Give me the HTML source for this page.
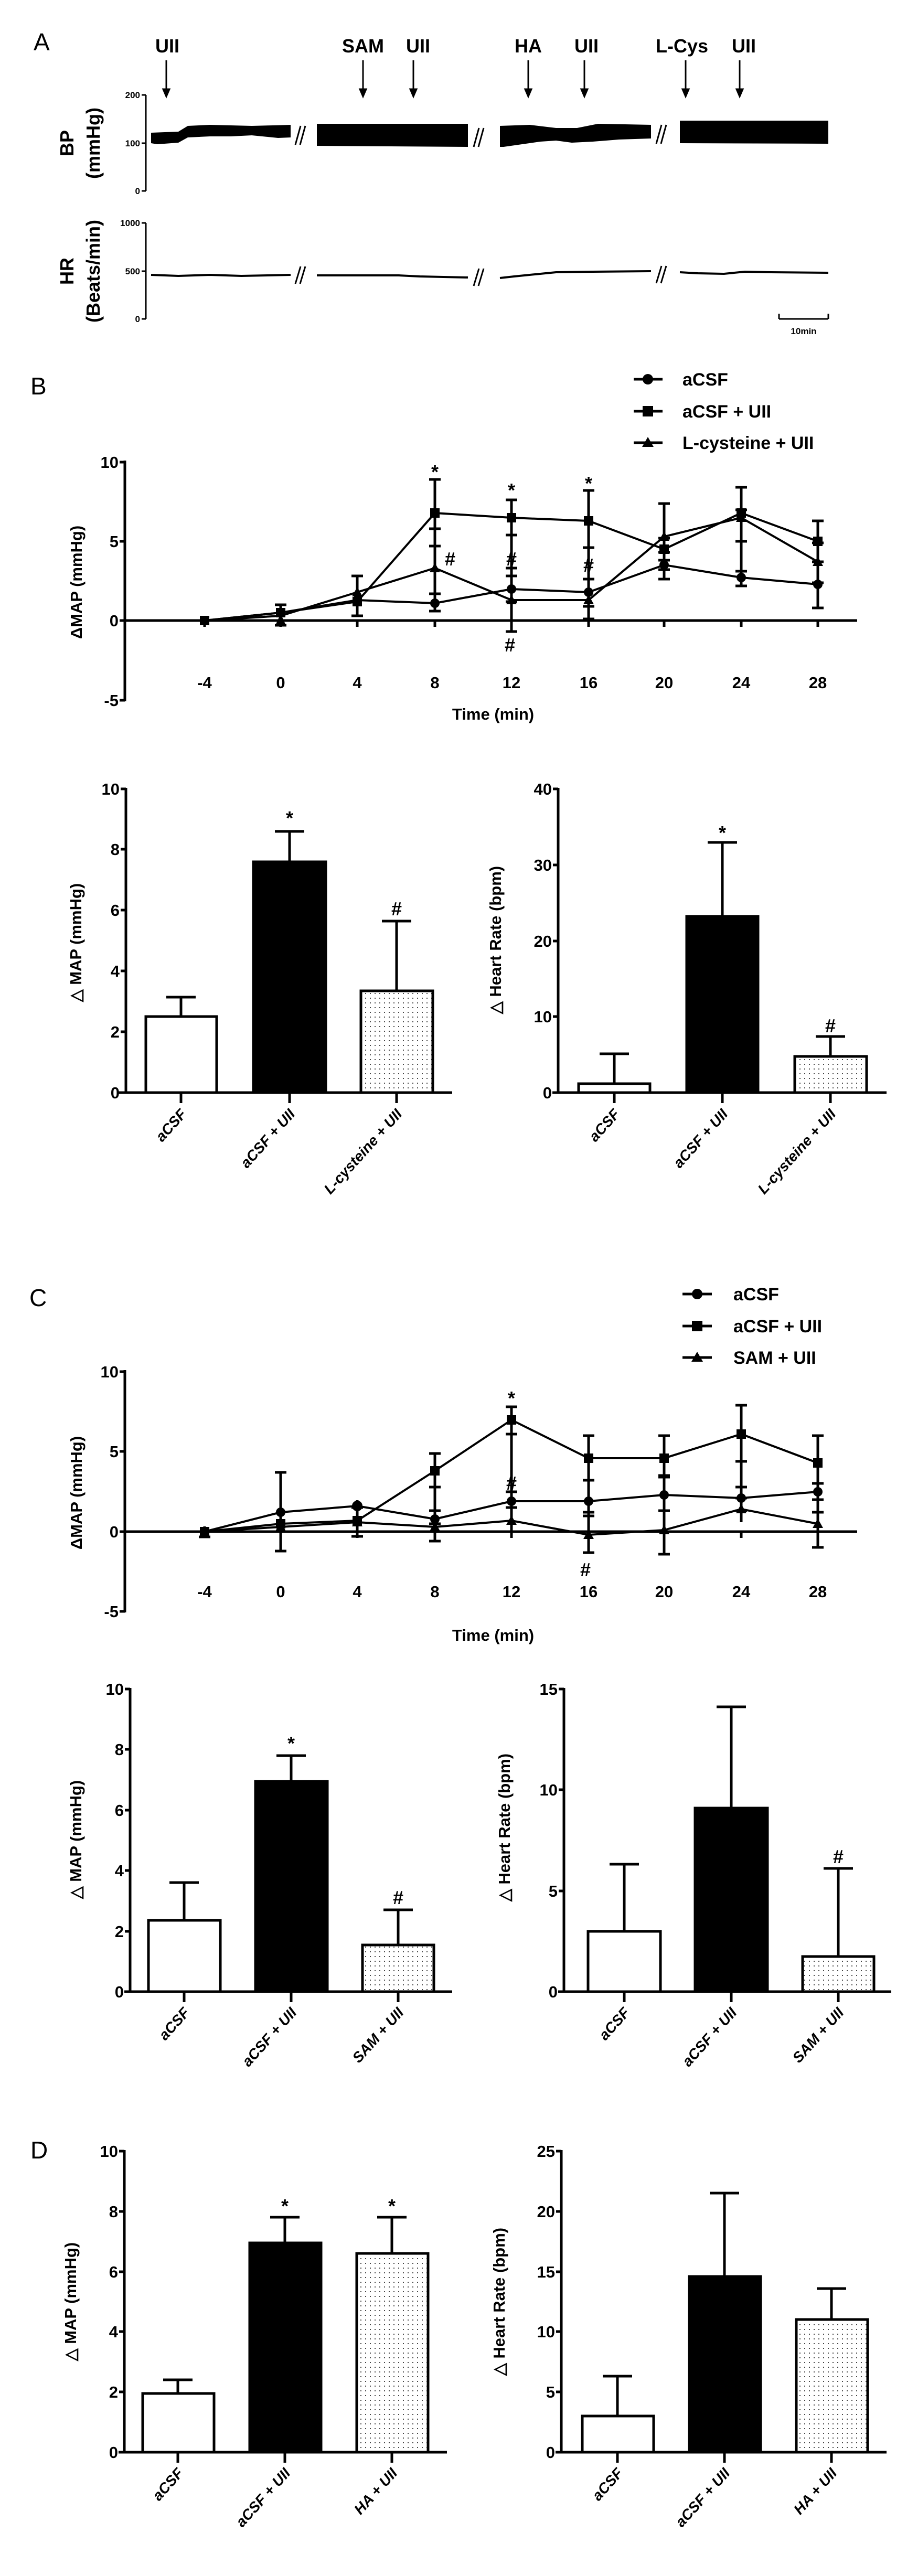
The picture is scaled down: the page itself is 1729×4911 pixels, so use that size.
<!DOCTYPE html>
<html><head><meta charset="utf-8"><style>
html,body{margin:0;padding:0;background:#fff}
svg{display:block}
text{font-family:"Liberation Sans",sans-serif;fill:#000}
.tk{font-size:31px;font-weight:bold}
.ax{font-size:31px;font-weight:bold}
.lg{font-size:34px;font-weight:bold}
.pl{font-size:46px}
.rl{font-size:28px;font-style:italic;font-weight:bold}
.sm{font-size:17px;font-weight:bold}
.an{font-size:36px;font-weight:bold}
</style></head><body>
<svg width="1729" height="4911" viewBox="0 0 1729 4911" xmlns="http://www.w3.org/2000/svg">
<defs>
<pattern id="dots" width="9" height="9" patternUnits="userSpaceOnUse"><rect width="9" height="9" fill="#fff"/><rect x="3" y="3" width="2" height="2" fill="#444"/></pattern>
</defs>
<rect width="1729" height="4911" fill="#fff"/>

<!-- ===== Panel A ===== -->
<text class="pl" x="64" y="96">A</text>
<g class="an" text-anchor="middle" style="font-size:36px">
<text x="319" y="100">UII</text>
<text x="692" y="100">SAM</text>
<text x="797" y="100">UII</text>
<text x="1007" y="100">HA</text>
<text x="1118" y="100">UII</text>
<text x="1300" y="100">L-Cys</text>
<text x="1418" y="100">UII</text>
</g>
<g stroke="#000" stroke-width="3" fill="#000">
<line x1="317" y1="115" x2="317" y2="175"/><polygon points="311,170 323,170 317,184"/>
<line x1="692" y1="115" x2="692" y2="175"/><polygon points="686,170 698,170 692,184"/>
<line x1="788" y1="115" x2="788" y2="175"/><polygon points="782,170 794,170 788,184"/>
<line x1="1007" y1="115" x2="1007" y2="175"/><polygon points="1001,170 1013,170 1007,184"/>
<line x1="1114" y1="115" x2="1114" y2="175"/><polygon points="1108,170 1120,170 1114,184"/>
<line x1="1307" y1="115" x2="1307" y2="175"/><polygon points="1301,170 1313,170 1307,184"/>
<line x1="1410" y1="115" x2="1410" y2="175"/><polygon points="1404,170 1416,170 1410,184"/>
</g>
<g stroke="#000" stroke-width="3">
<line x1="278" y1="181" x2="278" y2="364"/>
<line x1="270" y1="181" x2="278" y2="181"/><line x1="270" y1="273" x2="278" y2="273"/><line x1="270" y1="364" x2="278" y2="364"/>
<line x1="278" y1="425" x2="278" y2="608"/>
<line x1="270" y1="425" x2="278" y2="425"/><line x1="270" y1="517" x2="278" y2="517"/><line x1="270" y1="608" x2="278" y2="608"/>
<line x1="1485" y1="608" x2="1579" y2="608"/><line x1="1485" y1="598" x2="1485" y2="608"/><line x1="1579" y1="598" x2="1579" y2="608"/>
</g>
<g class="sm" text-anchor="end">
<text x="267" y="187">200</text><text x="267" y="279">100</text><text x="267" y="370">0</text>
<text x="267" y="431">1000</text><text x="267" y="523">500</text><text x="267" y="614">0</text>
</g>
<text class="sm" x="1532" y="637" text-anchor="middle">10min</text>
<g class="ax" style="font-size:36px" text-anchor="middle">
<text transform="translate(140,273) rotate(-90)">BP</text>
<text transform="translate(190,273) rotate(-90)">(mmHg)</text>
<text transform="translate(140,517) rotate(-90)">HR</text>
<text transform="translate(190,517) rotate(-90)">(Beats/min)</text>
</g>
<g fill="#000">
<polygon points="288,253 340,251 358,240 400,238 480,240 520,239 554,238 554,262 530,263 480,258 440,260 400,260 358,262 340,272 300,275 288,273"/>
<polygon points="604,236 892,236 892,280 604,278"/>
<polygon points="953,240 1010,238 1060,244 1100,244 1140,236 1241,238 1241,264 1180,266 1130,270 1090,272 1060,268 1030,270 960,280 953,280"/>
<polygon points="1296,230 1579,230 1579,274 1296,273"/>
</g>
<g stroke="#000" stroke-width="4" fill="none">
<polyline points="288,524 340,526 400,524 460,526 554,524"/>
<polyline points="604,525 700,525 760,525 800,527 892,529"/>
<polyline points="953,530 980,527 1040,521 1060,519 1130,518 1241,517"/>
<polyline points="1296,519 1330,521 1380,522 1420,518 1470,519 1579,520"/>
</g>
<g stroke="#000" stroke-width="3">
<line x1="563" y1="276" x2="573" y2="240"/><line x1="572" y1="276" x2="582" y2="240"/>
<line x1="903" y1="280" x2="913" y2="244"/><line x1="912" y1="280" x2="922" y2="244"/>
<line x1="1251" y1="274" x2="1261" y2="238"/><line x1="1260" y1="274" x2="1270" y2="238"/>
<line x1="563" y1="541" x2="573" y2="508"/><line x1="572" y1="541" x2="582" y2="508"/>
<line x1="903" y1="545" x2="913" y2="512"/><line x1="912" y1="545" x2="922" y2="512"/>
<line x1="1251" y1="540" x2="1261" y2="507"/><line x1="1260" y1="540" x2="1270" y2="507"/>
</g>

<!-- ===== Panel B line ===== -->
<text class="pl" x="58" y="752">B</text>
<g stroke="#000" stroke-width="5">
<line x1="1208" y1="723" x2="1263" y2="723"/><line x1="1208" y1="784" x2="1263" y2="784"/><line x1="1208" y1="844" x2="1263" y2="844"/>
</g>
<circle cx="1235" cy="723" r="10" fill="#000"/><rect x="1225" y="774" width="20" height="20" fill="#000"/><polygon points="1235,833 1246,852 1224,852" fill="#000"/>
<g class="lg"><text x="1301" y="735">aCSF</text><text x="1301" y="796">aCSF + UII</text><text x="1301" y="856">L-cysteine + UII</text></g>

<g stroke="#000" stroke-width="5" fill="none">
<line x1="238" y1="878" x2="238" y2="1337"/>
<line x1="228" y1="881" x2="238" y2="881"/><line x1="228" y1="1032" x2="238" y2="1032"/><line x1="228" y1="1335" x2="238" y2="1335"/>
<line x1="228" y1="1183" x2="1634" y2="1183"/>
<path d="M390 1183v12M535 1183v12M681 1183v12M829 1183v12M975 1183v12M1122 1183v12M1266 1183v12M1413 1183v12M1559 1183v12"/>
</g>
<g class="tk" text-anchor="end"><text x="226" y="892">10</text><text x="226" y="1043">5</text><text x="226" y="1194">0</text><text x="226" y="1346">-5</text></g>
<g class="tk" text-anchor="middle"><text x="390" y="1312">-4</text><text x="535" y="1312">0</text><text x="681" y="1312">4</text><text x="829" y="1312">8</text><text x="975" y="1312">12</text><text x="1122" y="1312">16</text><text x="1266" y="1312">20</text><text x="1413" y="1312">24</text><text x="1559" y="1312">28</text></g>
<text class="ax" x="940" y="1372" text-anchor="middle">Time (min)</text>
<text class="ax" transform="translate(156,1110) rotate(-90)" text-anchor="middle">ΔMAP (mmHg)</text>

<g stroke="#000" stroke-width="4" fill="none">
<polyline points="390,1183 535,1168 681,1147 829,978 975,987 1122,993 1266,1047 1413,978 1559,1032"/>
<polyline points="390,1183 535,1174 681,1129 829,1083 975,1144 1122,1144 1266,1023 1413,987 1559,1071"/>
<polyline points="390,1183 535,1168 681,1144 829,1150 975,1123 1122,1129 1266,1077 1413,1101 1559,1114"/>
</g>
<g stroke="#000" stroke-width="5">
<path d="M535 1192V1153M524 1192h22M524 1153h22"/>
<path d="M681 1174V1098M670 1174h22M670 1098h22"/>
<path d="M829 1165V914M818 914h22M818 1041h22M818 1132h22M818 1008h22M818 1165h22"/>
<path d="M975 1204V953M964 1204h22M964 953h22M964 1020h22M964 1083h22M964 1147h22M964 1098h22"/>
<path d="M1122 1180V935M1111 1180h22M1111 935h22M1111 1044h22M1111 1104h22M1111 1156h22"/>
<path d="M1266 1104V960M1255 1104h22M1255 960h22M1255 1086h22M1255 1053h22M1255 1026h22M1255 1068h22"/>
<path d="M1413 1117V929M1402 1117h22M1402 929h22M1402 1032h22M1402 1089h22M1402 972h22"/>
<path d="M1559 1159V993M1548 1159h22M1548 993h22M1548 1071h22M1548 1111h22M1548 1035h22"/>
</g>
<g fill="#000">
<rect x="381" y="1174" width="18" height="18"/><rect x="526" y="1159" width="18" height="18"/><rect x="672" y="1138" width="18" height="18"/><rect x="820" y="969" width="18" height="18"/><rect x="966" y="978" width="18" height="18"/><rect x="1113" y="984" width="18" height="18"/><rect x="1257" y="1038" width="18" height="18"/><rect x="1404" y="969" width="18" height="18"/><rect x="1550" y="1023" width="18" height="18"/>
<circle cx="681" cy="1144" r="9"/><circle cx="829" cy="1150" r="9"/><circle cx="975" cy="1123" r="9"/><circle cx="1122" cy="1129" r="9"/><circle cx="1266" cy="1077" r="9"/><circle cx="1413" cy="1101" r="9"/><circle cx="1559" cy="1114" r="9"/>
<polygon points="681,1119 691,1137 671,1137"/><polygon points="829,1073 839,1091 819,1091"/><polygon points="975,1134 985,1152 965,1152"/><polygon points="1122,1134 1132,1152 1112,1152"/><polygon points="1266,1013 1276,1031 1256,1031"/><polygon points="1413,977 1423,995 1403,995"/><polygon points="1559,1061 1569,1079 1549,1079"/><polygon points="535,1170 545,1192 525,1192"/>
</g>
<g class="an" text-anchor="middle">
<text x="829" y="912">*</text><text x="975" y="947">*</text><text x="1122" y="934">*</text>
<text x="858" y="1078">#</text><text x="975" y="1078">#</text><text x="1122" y="1090">#</text><text x="972" y="1242">#</text>
</g>

<!-- ===== Panel B bars ===== -->
<g stroke="#000" stroke-width="5" fill="none">
<line x1="240" y1="1502" x2="240" y2="2085"/>
<path d="M230 1504h10M230 1619h10M230 1735h10M230 1851h10M230 1967h10M230 2083h10"/>
<line x1="226" y1="2083" x2="862" y2="2083"/>
<path d="M345 2083v20M552 2083v20M756 2083v20"/>
<rect x="278" y="1938" width="135" height="145" fill="#fff"/>
<rect x="483" y="1643" width="138" height="440" fill="#000"/>
<rect x="688" y="1889" width="137" height="194" fill="url(#dots)"/>
<path d="M345 1938V1901M317 1901h56M552 1643V1585M524 1585h56M756 1889V1756M728 1756h56"/>
</g>
<g class="tk" text-anchor="end"><text x="228" y="1515">10</text><text x="228" y="1630">8</text><text x="228" y="1746">6</text><text x="228" y="1862">4</text><text x="228" y="1978">2</text><text x="228" y="2094">0</text></g>
<text class="ax" transform="translate(155,1797) rotate(-90)" text-anchor="middle">△ MAP (mmHg)</text>
<g class="an" text-anchor="middle"><text x="552" y="1572">*</text><text x="756" y="1745">#</text></g>
<g class="rl" text-anchor="end">
<text transform="translate(357,2125) rotate(-48)">aCSF</text>
<text transform="translate(564,2125) rotate(-48)">aCSF + UII</text>
<text transform="translate(768,2125) rotate(-48)">L-cysteine + UII</text>
</g>

<g stroke="#000" stroke-width="5" fill="none">
<line x1="1064" y1="1502" x2="1064" y2="2085"/>
<path d="M1054 1504h10M1054 1649h10M1054 1794h10M1054 1938h10M1054 2083h10"/>
<line x1="1053" y1="2083" x2="1690" y2="2083"/>
<path d="M1171 2083v20M1377 2083v20M1583 2083v20"/>
<rect x="1103" y="2066" width="136" height="17" fill="#fff"/>
<rect x="1309" y="1747" width="136" height="336" fill="#000"/>
<rect x="1515" y="2014" width="137" height="69" fill="url(#dots)"/>
<path d="M1171 2066V2009M1143 2009h56M1377 1747V1606M1349 1606h56M1583 2014V1976M1555 1976h56"/>
</g>
<g class="tk" text-anchor="end"><text x="1052" y="1515">40</text><text x="1052" y="1660">30</text><text x="1052" y="1805">20</text><text x="1052" y="1949">10</text><text x="1052" y="2094">0</text></g>
<text class="ax" transform="translate(955,1792) rotate(-90)" text-anchor="middle">△ Heart Rate (bpm)</text>
<g class="an" text-anchor="middle"><text x="1377" y="1600">*</text><text x="1583" y="1968">#</text></g>
<g class="rl" text-anchor="end">
<text transform="translate(1183,2125) rotate(-48)">aCSF</text>
<text transform="translate(1389,2125) rotate(-48)">aCSF + UII</text>
<text transform="translate(1595,2125) rotate(-48)">L-cysteine + UII</text>
</g>

<!-- ===== Panel C line ===== -->
<text class="pl" x="56" y="2490">C</text>
<g stroke="#000" stroke-width="5">
<line x1="1301" y1="2467" x2="1357" y2="2467"/><line x1="1301" y1="2528" x2="1357" y2="2528"/><line x1="1301" y1="2588" x2="1357" y2="2588"/>
</g>
<circle cx="1329" cy="2467" r="10" fill="#000"/><rect x="1319" y="2518" width="20" height="20" fill="#000"/><polygon points="1329,2577 1340,2596 1318,2596" fill="#000"/>
<g class="lg"><text x="1398" y="2479">aCSF</text><text x="1398" y="2540">aCSF + UII</text><text x="1398" y="2600">SAM + UII</text></g>

<g stroke="#000" stroke-width="5" fill="none">
<line x1="238" y1="2612" x2="238" y2="3074"/>
<line x1="228" y1="2615" x2="238" y2="2615"/><line x1="228" y1="2767" x2="238" y2="2767"/><line x1="228" y1="3072" x2="238" y2="3072"/>
<line x1="228" y1="2920" x2="1634" y2="2920"/>
<path d="M390 2920v12M535 2920v12M681 2920v12M829 2920v12M975 2920v12M1122 2920v12M1266 2920v12M1413 2920v12M1559 2920v12"/>
</g>
<g class="tk" text-anchor="end"><text x="226" y="2626">10</text><text x="226" y="2778">5</text><text x="226" y="2931">0</text><text x="226" y="3083">-5</text></g>
<g class="tk" text-anchor="middle"><text x="390" y="3045">-4</text><text x="535" y="3045">0</text><text x="681" y="3045">4</text><text x="829" y="3045">8</text><text x="975" y="3045">12</text><text x="1122" y="3045">16</text><text x="1266" y="3045">20</text><text x="1413" y="3045">24</text><text x="1559" y="3045">28</text></g>
<text class="ax" x="940" y="3128" text-anchor="middle">Time (min)</text>
<text class="ax" transform="translate(156,2846) rotate(-90)" text-anchor="middle">ΔMAP (mmHg)</text>

<g stroke="#000" stroke-width="4" fill="none">
<polyline points="390,2920 535,2905 681,2899 829,2804 975,2707 1122,2780 1266,2780 1413,2734 1559,2789"/>
<polyline points="390,2920 535,2883 681,2871 829,2896 975,2862 1122,2862 1266,2850 1413,2856 1559,2844"/>
<polyline points="390,2920 535,2911 681,2902 829,2911 975,2899 1122,2926 1266,2917 1413,2877 1559,2905"/>
</g>
<g stroke="#000" stroke-width="5">
<path d="M390 2930V2910M379 2930h22"/>
<path d="M535 2957V2807M524 2957h22M524 2807h22"/>
<path d="M681 2929V2860M670 2929h22M670 2874h22"/>
<path d="M829 2938V2771M818 2938h22M818 2771h22M818 2835h22M818 2880h22M818 2905h22"/>
<path d="M975 2920V2682M964 2682h22M964 2734h22M964 2844h22M964 2874h22"/>
<path d="M1122 2960V2737M1111 2960h22M1111 2737h22M1111 2822h22M1111 2890h22M1111 2883h22"/>
<path d="M1266 2963V2737M1255 2963h22M1255 2737h22M1255 2816h22M1255 2813h22M1255 2880h22"/>
<path d="M1413 2902V2679M1402 2786h22M1402 2679h22M1402 2880h22M1402 2835h22M1402 2856h22"/>
<path d="M1559 2950V2737M1548 2950h22M1548 2737h22M1548 2828h22M1548 2883h22M1548 2859h22"/>
</g>
<g fill="#000">
<rect x="381" y="2911" width="18" height="18"/><rect x="526" y="2896" width="18" height="18"/><rect x="672" y="2890" width="18" height="18"/><rect x="820" y="2795" width="18" height="18"/><rect x="966" y="2698" width="18" height="18"/><rect x="1113" y="2771" width="18" height="18"/><rect x="1257" y="2771" width="18" height="18"/><rect x="1404" y="2725" width="18" height="18"/><rect x="1550" y="2780" width="18" height="18"/>
<circle cx="535" cy="2883" r="9"/><circle cx="681" cy="2871" r="10"/><circle cx="829" cy="2896" r="9"/><circle cx="975" cy="2862" r="9"/><circle cx="1122" cy="2862" r="9"/><circle cx="1266" cy="2850" r="9"/><circle cx="1413" cy="2856" r="9"/><circle cx="1559" cy="2844" r="9"/>
<polygon points="535,2901 545,2919 525,2919"/><polygon points="681,2892 691,2910 671,2910"/><polygon points="829,2901 839,2919 819,2919"/><polygon points="975,2889 985,2907 965,2907"/><polygon points="1122,2916 1132,2934 1112,2934"/><polygon points="1266,2907 1276,2925 1256,2925"/><polygon points="1413,2867 1423,2885 1403,2885"/><polygon points="1559,2895 1569,2913 1549,2913"/>
</g>
<g class="an" text-anchor="middle"><text x="975" y="2678">*</text><text x="975" y="2840">#</text><text x="1116" y="3005">#</text></g>

<!-- ===== Panel C bars ===== -->
<g stroke="#000" stroke-width="5" fill="none">
<line x1="248" y1="3218" x2="248" y2="3799"/>
<path d="M238 3220h10M238 3335h10M238 3451h10M238 3566h10M238 3682h10M238 3797h10"/>
<line x1="237" y1="3797" x2="862" y2="3797"/>
<path d="M351 3797v20M555 3797v20M759 3797v20"/>
<rect x="283" y="3661" width="137" height="136" fill="#fff"/>
<rect x="487" y="3396" width="137" height="401" fill="#000"/>
<rect x="691" y="3708" width="136" height="89" fill="url(#dots)"/>
<path d="M351 3661V3589M323 3589h56M555 3396V3347M527 3347h56M759 3708V3641M731 3641h56"/>
</g>
<g class="tk" text-anchor="end"><text x="236" y="3231">10</text><text x="236" y="3346">8</text><text x="236" y="3462">6</text><text x="236" y="3577">4</text><text x="236" y="3693">2</text><text x="236" y="3808">0</text></g>
<text class="ax" transform="translate(155,3507) rotate(-90)" text-anchor="middle">△ MAP (mmHg)</text>
<g class="an" text-anchor="middle"><text x="555" y="3336">*</text><text x="759" y="3630">#</text></g>
<g class="rl" text-anchor="end">
<text transform="translate(363,3838) rotate(-48)">aCSF</text>
<text transform="translate(567,3838) rotate(-48)">aCSF + UII</text>
<text transform="translate(771,3838) rotate(-48)">SAM + UII</text>
</g>

<g stroke="#000" stroke-width="5" fill="none">
<line x1="1075" y1="3218" x2="1075" y2="3799"/>
<path d="M1065 3220h10M1065 3412h10M1065 3605h10M1065 3797h10"/>
<line x1="1064" y1="3797" x2="1699" y2="3797"/>
<path d="M1190 3797v20M1394 3797v20M1598 3797v20"/>
<rect x="1121" y="3682" width="138" height="115" fill="#fff"/>
<rect x="1325" y="3447" width="138" height="350" fill="#000"/>
<rect x="1530" y="3730" width="136" height="67" fill="url(#dots)"/>
<path d="M1190 3682V3554M1162 3554h56M1394 3447V3254M1366 3254h56M1598 3730V3562M1570 3562h56"/>
</g>
<g class="tk" text-anchor="end"><text x="1063" y="3231">15</text><text x="1063" y="3423">10</text><text x="1063" y="3616">5</text><text x="1063" y="3808">0</text></g>
<text class="ax" transform="translate(972,3484) rotate(-90)" text-anchor="middle">△ Heart Rate (bpm)</text>
<g class="an" text-anchor="middle"><text x="1598" y="3552">#</text></g>
<g class="rl" text-anchor="end">
<text transform="translate(1202,3838) rotate(-48)">aCSF</text>
<text transform="translate(1406,3838) rotate(-48)">aCSF + UII</text>
<text transform="translate(1610,3838) rotate(-48)">SAM + UII</text>
</g>

<!-- ===== Panel D ===== -->
<text class="pl" x="58" y="4115">D</text>
<g stroke="#000" stroke-width="5" fill="none">
<line x1="237" y1="4099" x2="237" y2="4677"/>
<path d="M227 4101h10M227 4216h10M227 4331h10M227 4445h10M227 4560h10M227 4675h10"/>
<line x1="226" y1="4675" x2="852" y2="4675"/>
<path d="M339 4675v20M543 4675v20M747 4675v20"/>
<rect x="272" y="4563" width="136" height="112" fill="#fff"/>
<rect x="476" y="4276" width="136" height="399" fill="#000"/>
<rect x="680" y="4296" width="136" height="379" fill="url(#dots)"/>
<path d="M339 4563V4537M311 4537h56M543 4276V4227M515 4227h56M747 4296V4227M719 4227h56"/>
</g>
<g class="tk" text-anchor="end"><text x="225" y="4112">10</text><text x="225" y="4227">8</text><text x="225" y="4342">6</text><text x="225" y="4456">4</text><text x="225" y="4571">2</text><text x="225" y="4686">0</text></g>
<text class="ax" transform="translate(145,4388) rotate(-90)" text-anchor="middle">△ MAP (mmHg)</text>
<g class="an" text-anchor="middle"><text x="543" y="4218">*</text><text x="747" y="4218">*</text></g>
<g class="rl" text-anchor="end">
<text transform="translate(351,4716) rotate(-48)">aCSF</text>
<text transform="translate(555,4716) rotate(-48)">aCSF + UII</text>
<text transform="translate(759,4716) rotate(-48)">HA + UII</text>
</g>

<g stroke="#000" stroke-width="5" fill="none">
<line x1="1070" y1="4099" x2="1070" y2="4677"/>
<path d="M1060 4101h10M1060 4216h10M1060 4331h10M1060 4445h10M1060 4560h10M1060 4675h10"/>
<line x1="1059" y1="4675" x2="1690" y2="4675"/>
<path d="M1177 4675v20M1381 4675v20M1585 4675v20"/>
<rect x="1110" y="4606" width="136" height="69" fill="#fff"/>
<rect x="1314" y="4340" width="136" height="335" fill="#000"/>
<rect x="1518" y="4422" width="136" height="253" fill="url(#dots)"/>
<path d="M1177 4606V4530M1149 4530h56M1381 4340V4181M1353 4181h56M1585 4422V4363M1557 4363h56"/>
</g>
<g class="tk" text-anchor="end"><text x="1058" y="4112">25</text><text x="1058" y="4227">20</text><text x="1058" y="4342">15</text><text x="1058" y="4456">10</text><text x="1058" y="4571">5</text><text x="1058" y="4686">0</text></g>
<text class="ax" transform="translate(962,4388) rotate(-90)" text-anchor="middle">△ Heart Rate (bpm)</text>
<g class="rl" text-anchor="end">
<text transform="translate(1189,4716) rotate(-48)">aCSF</text>
<text transform="translate(1393,4716) rotate(-48)">aCSF + UII</text>
<text transform="translate(1597,4716) rotate(-48)">HA + UII</text>
</g>
</svg>
</body></html>
